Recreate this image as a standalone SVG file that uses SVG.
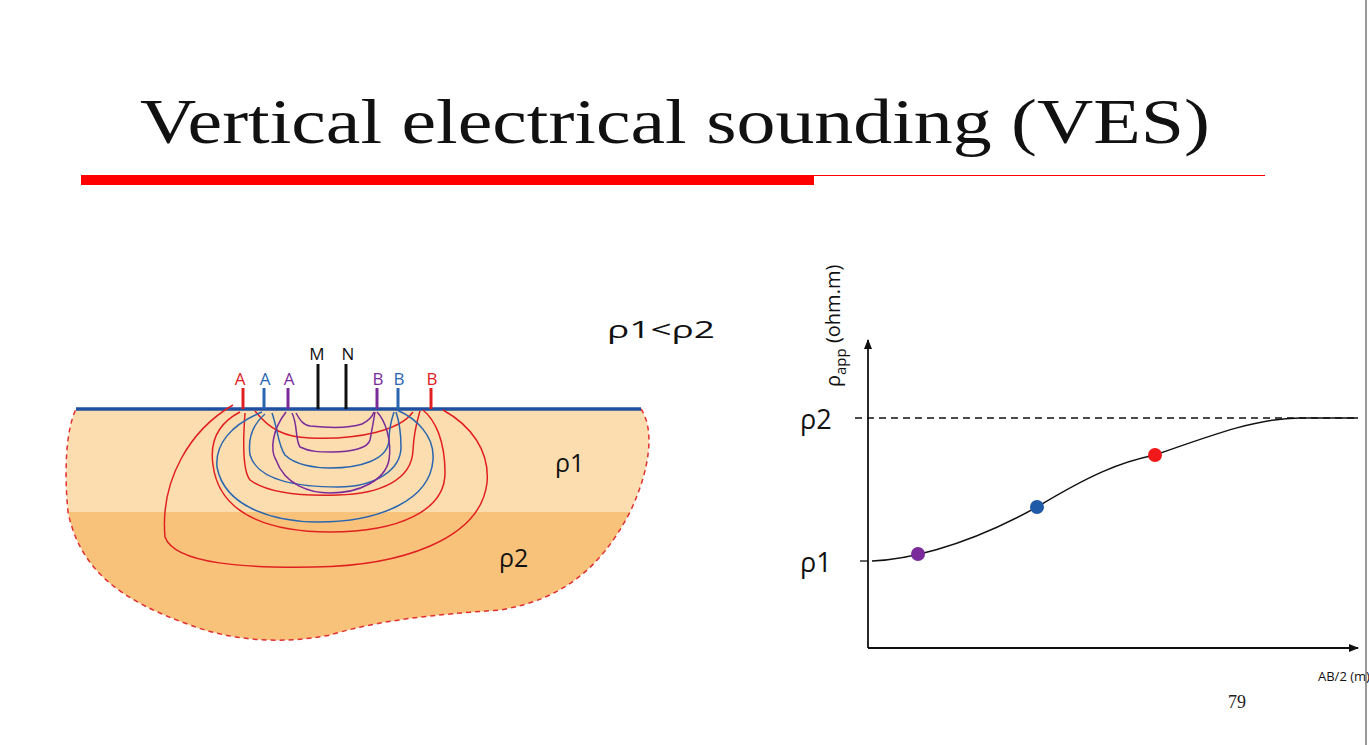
<svg xmlns="http://www.w3.org/2000/svg" width="1369" height="745" viewBox="0 0 1369 745">
<style>
.s{font-family:"Open Sans","Liberation Sans",sans-serif;fill:#111}
.c{fill:none;stroke-width:1.5}
.r{stroke:#e02020}.b{stroke:#2a66b0}.p{stroke:#7a2a9a}
</style>
<defs>
<marker id="ar" markerWidth="10" markerHeight="8" refX="9" refY="4" orient="auto" markerUnits="userSpaceOnUse"><path d="M0,0L10,4L0,8z" fill="#111"/></marker>
</defs>
<rect width="1369" height="745" fill="#fff"/>
<line x1="1366" y1="0" x2="1366" y2="745" stroke="#999" stroke-width="2"/>
<text x="140" y="143" textLength="1070" lengthAdjust="spacingAndGlyphs" font-family="Liberation Serif,serif" font-size="64" fill="#111">Vertical electrical sounding (VES)</text>
<rect x="81" y="175" width="733" height="10" fill="#f00"/>
<line x1="814" y1="175.5" x2="1265" y2="175.5" stroke="#f00" stroke-width="1"/>
<g id="earth">
<path d="M76,409 H641 C655,430 650,470 630,512 H68 C64,470 66,430 76,409Z" fill="#fbddb0"/>
<path d="M68,512 H630 C600,570 560,600 500,610 C430,615 380,620 330,635 C280,645 230,640 190,625 C120,600 80,570 68,512Z" fill="#f9c27a"/>
<path d="M641,409 C655,430 650,470 630,512 C600,570 560,600 500,610 C430,615 380,620 330,635 C280,645 230,640 190,625 C120,600 80,570 68,512 C64,470 66,430 76,409" fill="none" stroke="#e03030" stroke-width="1.5" stroke-dasharray="5,4"/>
<line x1="76" y1="409" x2="641" y2="409" stroke="#1f4fa0" stroke-width="3.5"/>
</g>
<g id="contours">
<path class="c r" d="M233,405 C190,430 160,480 165,537 C175,565 250,568 314,567 C400,566 480,540 487,483 C490,450 470,425 443,410"/>
<path class="c r" d="M240,412 C215,425 210,445 213,465 C220,520 280,532 330,532 C400,532 445,510 445,473 C445,440 435,420 423,410"/>
<path class="c r" d="M245,413 C243,440 242,470 250,480 C270,495 310,496 338,495 C380,494 412,480 413,450 C414,430 418,418 420,411"/>
<path class="c r" d="M255,411 C270,430 285,437 310,438 C360,440 400,430 413,412"/>
<path class="c b" d="M262,412 C230,425 215,445 217,467 C225,510 280,522 318,522 C380,522 430,500 433,460 C435,435 415,418 397,410"/>
<path class="c b" d="M265,414 C252,425 248,440 250,455 C258,482 300,487 338,487 C375,487 401,470 401,447 C401,430 398,418 396,412"/>
<path class="c b" d="M272,413 C278,430 278,445 285,455 C295,465 315,468 330,468 C360,468 388,460 389,440 C389,428 392,418 394,412"/>
<path class="c p" d="M286,412 C272,430 270,450 276,460 C285,485 310,493 330,493 C360,493 385,480 389,460 C392,440 385,420 377,412"/>
<path class="c p" d="M292,413 C298,425 295,440 300,447 C310,452 320,452 332,452 C352,452 368,448 370,440 C372,430 374,418 375,412"/>
<path class="c p" d="M296,413 C300,420 303,425 310,426 C330,428 350,428 362,424 C370,420 373,415 374,412"/>
</g>
<g id="electrodes" font-size="17" class="s">
<line x1="243" y1="388" x2="243" y2="409" stroke="#e02020" stroke-width="3"/><text x="240" y="385" text-anchor="middle" style="fill:#e02020">A</text>
<line x1="264" y1="388" x2="264" y2="409" stroke="#2a66b0" stroke-width="3"/><text x="265" y="385" text-anchor="middle" style="fill:#2a66b0">A</text>
<line x1="288" y1="388" x2="288" y2="409" stroke="#7a2a9a" stroke-width="3"/><text x="289" y="385" text-anchor="middle" style="fill:#7a2a9a">A</text>
<line x1="318" y1="364" x2="318" y2="409" stroke="#111" stroke-width="3"/><text x="317" y="360" text-anchor="middle">M</text>
<line x1="346" y1="364" x2="346" y2="409" stroke="#111" stroke-width="3"/><text x="348" y="360" text-anchor="middle">N</text>
<line x1="377" y1="388" x2="377" y2="409" stroke="#7a2a9a" stroke-width="3"/><text x="378" y="385" text-anchor="middle" style="fill:#7a2a9a">B</text>
<line x1="398" y1="388" x2="398" y2="409" stroke="#2a66b0" stroke-width="3"/><text x="399" y="385" text-anchor="middle" style="fill:#2a66b0">B</text>
<line x1="431" y1="388" x2="431" y2="409" stroke="#e02020" stroke-width="3"/><text x="432" y="385" text-anchor="middle" style="fill:#e02020">B</text>
</g>
<text class="s" x="607" y="338" font-size="24" textLength="108" lengthAdjust="spacingAndGlyphs">ρ1&lt;ρ2</text>
<text class="s" x="555" y="472" font-size="25">ρ1</text>
<text class="s" x="499" y="567" font-size="25">ρ2</text>
<g id="graph">
<line x1="868" y1="648" x2="868" y2="340" stroke="#111" stroke-width="1.8" marker-end="url(#ar)"/>
<line x1="868" y1="648" x2="1358" y2="648" stroke="#111" stroke-width="1.8" marker-end="url(#ar)"/>
<line x1="855" y1="418" x2="1358" y2="418" stroke="#111" stroke-width="1.3" stroke-dasharray="7,5"/>
<line x1="860" y1="561" x2="868" y2="561" stroke="#111" stroke-width="1.3"/>
<path d="M872,561 C900,560 960,550 1037,507 C1090,475 1120,462 1155,455 C1220,432 1260,418 1300,418 L1358,418" fill="none" stroke="#111" stroke-width="1.5"/>
<circle cx="918" cy="554" r="7" fill="#7a2a9a"/>
<circle cx="1037" cy="507" r="7" fill="#1f5aa8"/>
<circle cx="1155" cy="455" r="7" fill="#f01818"/>
<text class="s" x="800" y="429" font-size="27">ρ2</text>
<text class="s" x="800" y="572" font-size="27">ρ1</text>
<text class="s" transform="translate(840,387) rotate(-90)" font-size="20">ρ<tspan font-size="15" dy="6">app</tspan><tspan dy="-6"> (ohm.m)</tspan></text>
<text class="s" x="1318" y="681" font-size="13">AB/2 (m)</text>
</g>
<text x="1228" y="708" font-family="Liberation Serif,serif" font-size="18" fill="#222">79</text>
</svg>
